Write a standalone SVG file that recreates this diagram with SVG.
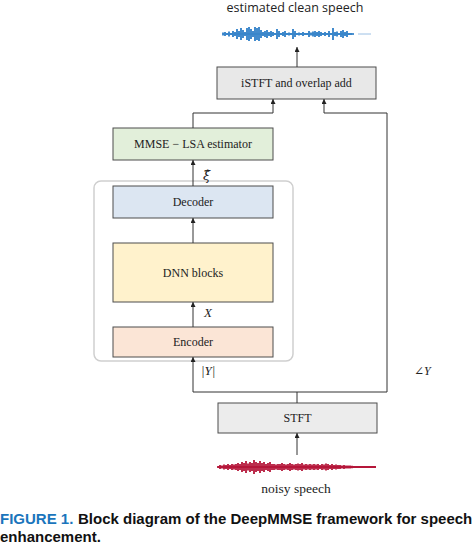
<svg xmlns="http://www.w3.org/2000/svg" width="474" height="545" viewBox="0 0 474 545">
<style>
.box{stroke:#4d4d4d;stroke-width:1}
.lbl{font-family:"Liberation Serif","DejaVu Serif",serif;font-size:12px;fill:#222;text-anchor:middle}
.math{font-family:"Liberation Serif","DejaVu Serif",serif;font-style:italic;font-size:13px;fill:#222}
.conn{fill:none;stroke:#333;stroke-width:1}
.cap{font-family:"Liberation Sans","Open Sans",sans-serif;font-weight:bold;font-size:15px;fill:#111}
.wb{fill:none;stroke:#2f7fc8;stroke-width:1.8}
.wr{fill:none;stroke:#b5173a;stroke-width:1.8}
</style>
<defs>
<marker id="ah" viewBox="0 0 6 6" refX="6" refY="3" markerWidth="5" markerHeight="5" orient="auto" markerUnits="userSpaceOnUse">
<path d="M0,0 L6,3 L0,6 z" fill="#222"/>
</marker>
</defs>
<rect width="474" height="545" fill="#fff"/>

<g id="out-label"><text x="295" y="12" style="font-family:'Open Sans','Liberation Sans',sans-serif;font-size:12.5px;fill:#222;text-anchor:middle">estimated clean speech</text></g>
<g id="clean-wave">
<line x1="223" y1="34" x2="354" y2="34" stroke="#2f7fc8" stroke-width="1.2"/>
<path class="wb" d="M223 32.5v3 M225 32v4 M227 33v2 M229 31.5v5 M231 33v2 M233 31v6 M235 32v4 M237 29v10 M239 31v6 M241 28v12 M243 30v8 M245 32v4 M247 28v12 M249 27v14 M251 29v10 M253 31v6 M255 27v14 M257 28v12 M259 27v14 M261 30v8 M263 32v4 M265 31v6 M267 30v8 M269 32v4 M271 31v6 M273 32v4 M275 33v2 M277 29v10 M279 31v6 M281 33v2 M283 32v4 M285 31v6 M287 33v2 M289 32.5v3 M291 33v2 M293 29v10 M295 31v6 M297 33v2 M299 32.5v3 M301 33v2 M303 32v4 M305 33v2 M307 33v2 M309 31v6 M311 32.5v3 M313 31.5v5 M315 31v6 M317 32v4 M319 31v6 M321 32v4 M323 33v2 M325 32v4 M327 33v2 M329 31v6 M331 33v2 M333 28v12 M335 32v4 M337 31.5v5 M339 33v2 M341 31v6 M343 30v8 M345 32v4 M347 31v6 M349 33v2 M351 33v2 M353 33.2v1.6"/>
<line x1="358" y1="34" x2="371" y2="34" stroke="#9cc0e4" stroke-width="1"/>
</g>

<g id="istft"><rect class="box" x="217" y="67" width="159" height="32" fill="#e8e8e8"/><text class="lbl" x="296.5" y="87">iSTFT and overlap add</text></g>
<g id="mmse"><rect class="box" x="113" y="128" width="160" height="32" fill="#e2efda"/><text class="lbl" x="193" y="148">MMSE − LSA estimator</text></g>
<g id="dnn-group"><rect x="94" y="181" width="199" height="180" rx="7" fill="none" stroke="#cfcfcf" stroke-width="1.5"/></g>
<g id="decoder"><rect class="box" x="113" y="186" width="160" height="32" fill="#dce6f2"/><text class="lbl" x="193" y="206">Decoder</text></g>
<g id="dnn"><rect class="box" x="113" y="243" width="160" height="59" fill="#fff2cc"/><text class="lbl" x="193" y="277">DNN blocks</text></g>
<g id="encoder"><rect class="box" x="113" y="327" width="160" height="30" fill="#fbe5d6"/><text class="lbl" x="193" y="346">Encoder</text></g>
<g id="stft"><rect class="box" x="218" y="403" width="159" height="30" fill="#ececec"/><text class="lbl" x="297.5" y="422">STFT</text></g>

<g id="noisy-wave">
<line x1="218" y1="467" x2="376" y2="467" stroke="#b5173a" stroke-width="2"/>
<path class="wr" d="M218 466v2 M220 465v4 M222 465.5v3 M224 464.5v5 M226 465v4 M228 464v6 M230 465v4 M232 464v6 M234 464.5v5 M236 464v6 M238 463v8 M240 464v6 M242 462v10 M244 463v8 M246 461v12 M248 463.5v7 M250 462v10 M252 463v8 M254 460v14 M256 462v10 M258 463v8 M260 461v12 M262 463v8 M264 462v10 M266 464v6 M268 463v8 M270 462v10 M272 464v6 M274 464v6 M276 464.5v5 M278 464v6 M280 464v6 M282 463v8 M284 464v6 M286 464.5v5 M288 464v6 M290 463v8 M292 464v6 M294 464.5v5 M296 464v6 M298 463.5v7 M300 464v6 M302 463v8 M304 464.5v5 M306 464v6 M308 464.5v5 M310 464v6 M312 464.5v5 M314 464v6 M316 464.5v5 M318 464v6 M320 465v4 M322 464v6 M324 464.5v5 M326 463.5v7 M328 464v6 M330 465v4 M332 464v6 M334 465v4 M336 464.5v5 M338 465v4 M340 465v4 M342 465.5v3 M344 465v4 M346 465.5v3 M348 465.5v3 M350 465.5v3 M352 465.8v2.4"/>
</g>
<g id="in-label"><text x="296" y="493" style="font-family:'Liberation Serif','DejaVu Serif',serif;font-size:13.5px;fill:#222;text-anchor:middle">noisy speech</text></g>

<g id="connectors">
<line class="conn" x1="297" y1="67" x2="297" y2="47" marker-end="url(#ah)"/>
<polyline class="conn" points="193,128 193,113 273,113 273,99" marker-end="url(#ah)"/>
<polyline class="conn" points="387,392 387,113 324,113 324,99" marker-end="url(#ah)"/>
<line class="conn" x1="193" y1="186" x2="193" y2="160" marker-end="url(#ah)"/>
<line class="conn" x1="193" y1="243" x2="193" y2="218" marker-end="url(#ah)"/>
<line class="conn" x1="193" y1="327" x2="193" y2="302" marker-end="url(#ah)"/>
<polyline class="conn" points="297,403 297,392 193,392 193,357" marker-end="url(#ah)"/>
<line class="conn" x1="297" y1="392" x2="387" y2="392"/>
<line class="conn" x1="297" y1="455" x2="297" y2="433" marker-end="url(#ah)"/>
</g>

<g id="labels">
<text x="203" y="180" style="font-family:'DejaVu Serif',serif;font-style:italic;font-size:13px;fill:#222">ξ̂</text>
<text class="math" x="204" y="317">X</text>
<text class="math" x="201" y="375">|Y|</text>
<text class="math" x="414" y="375" style="font-size:12px">∠Y</text>
</g>

<g id="caption">
<text class="cap" x="0" y="524" style="fill:#1a75bc">FIGURE 1.</text>
<text class="cap" x="78" y="524">Block diagram of the DeepMMSE framework for speech</text>
<text class="cap" x="0" y="542">enhancement.</text>
</g>
</svg>
